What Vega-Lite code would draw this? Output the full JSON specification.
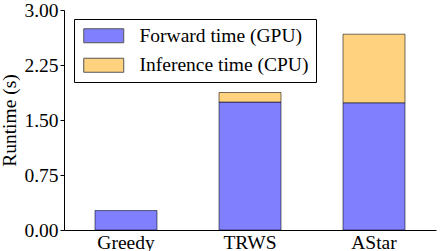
{
  "$schema": "https://vega.github.io/schema/vega-lite/v6.json",
  "autosize": {"type": "none"},
  "padding": {"left": 64, "top": 10, "right": 4, "bottom": 21},
  "width": 372,
  "height": 220,
  "background": "white",
  "config": {
    "view": {"stroke": null},
    "font": "Liberation Serif",
    "axis": {"grid": false, "domainColor": "black", "tickColor": "black", "labelColor": "black", "titleColor": "black", "labelFont": "Liberation Serif", "titleFont": "Liberation Serif", "labelFontSize": 19.5, "titleFontSize": 19.5, "titleFontWeight": "normal", "domainWidth": 1, "tickWidth": 1}
  },
  "data": {
    "values": [
      {"method": "Greedy", "component": "Forward time (GPU)", "time": 0.265},
      {"method": "TRWS", "component": "Forward time (GPU)", "time": 1.745},
      {"method": "TRWS", "component": "Inference time (CPU)", "time": 0.13},
      {"method": "AStar", "component": "Forward time (GPU)", "time": 1.735},
      {"method": "AStar", "component": "Inference time (CPU)", "time": 0.935}
    ]
  },
  "mark": {"type": "bar", "stroke": "black", "strokeOpacity": 0.55, "strokeWidth": 1, "opacity": 1},
  "encoding": {
    "x": {
      "field": "method", "type": "nominal", "sort": ["Greedy", "TRWS", "AStar"],
      "scale": {"paddingInner": 0.5, "paddingOuter": 0.25},
      "axis": {"title": null, "labelAngle": 0, "tickSize": -5, "labelPadding": 8}
    },
    "y": {
      "field": "time", "type": "quantitative", "stack": "zero",
      "scale": {"domain": [0, 3], "nice": false},
      "axis": {"title": "Runtime (s)", "values": [0, 0.75, 1.5, 2.25, 3], "format": ".2f", "tickSize": 4, "labelPadding": 2, "titlePadding": 4}
    },
    "order": {"field": "component", "type": "nominal", "sort": "ascending"},
    "color": {
      "field": "component", "type": "nominal",
      "scale": {"domain": ["Forward time (GPU)", "Inference time (CPU)"], "range": ["#8080ff", "#ffd280"]},
      "legend": {
        "title": null, "orient": "none", "legendX": 10, "legendY": 9,
        "strokeColor": "black", "fillColor": "white", "padding": 7,
        "symbolType": "M-2.857,-1H2.857V1H-2.857Z", "symbolSize": 196,
        "symbolStrokeColor": "#555555", "symbolStrokeWidth": 1, "symbolOpacity": 1,
        "symbolOffset": 13, "labelOffset": 26, "labelLimit": 400,
        "labelFont": "Liberation Serif", "labelFontSize": 19.5, "labelColor": "black",
        "rowPadding": 8.5
      }
    }
  }
}
